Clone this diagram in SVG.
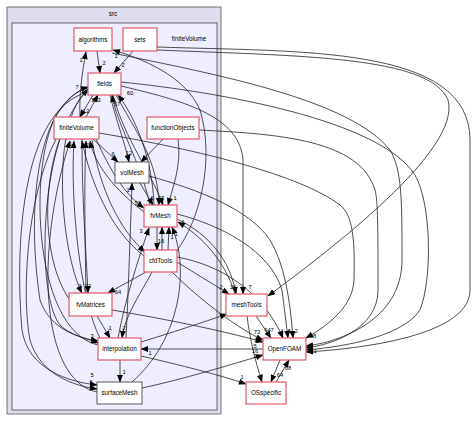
<svg xmlns="http://www.w3.org/2000/svg" width="474" height="422" viewBox="0 0 474 422">
<style>
.n text{font-family:"Liberation Sans",Arial,sans-serif;font-size:6.3px;text-anchor:middle;fill:#000}
.r{fill:#fff;stroke:#e05a68;stroke-width:1.2}
.b{fill:#fff;stroke:#333;stroke-width:0.8}
.e path{fill:none;stroke:#222;stroke-width:0.8;marker-end:url(#a)}
.l text{font-family:"Liberation Sans",Arial,sans-serif;font-size:5.8px;text-anchor:middle;fill:#000}
.c text{font-family:"Liberation Sans",Arial,sans-serif;font-size:6.3px;text-anchor:middle;fill:#000}
</style>
<defs>
<marker id="a" markerUnits="userSpaceOnUse" markerWidth="8" markerHeight="6" refX="6.5" refY="2.75" orient="auto" viewBox="0 0 7 5.5">
<path d="M0,0 L7,2.75 L0,5.5 Z" fill="#000"/>
</marker>
</defs>
<rect width="474" height="422" fill="#fff"/>
<g id="cluster_src" class="c">
<rect x="7" y="7" width="214" height="407" fill="#ddddee" stroke="#555" stroke-width="0.8"/>
<text x="113" y="16">src</text>
</g>
<g id="cluster_finiteVolume" class="c">
<rect x="12" y="23" width="205" height="387" fill="#eeeeff" stroke="#444" stroke-width="0.8"/>
<text x="189" y="41">finiteVolume</text>
</g>
<g id="connectors" class="e">
<path d="M80,117 C79,96 82,72 86,52"/>
<path d="M97,51 L100,73"/>
<path d="M133,51 L114,73"/>
<path d="M176,252 C200,220 215,160 200,110 C185,75 140,58 113,50"/>
<path d="M86,117 L98,95"/>
<path d="M93,95 L80,117"/>
<path d="M110,95 C116,120 124,140 129,162"/>
<path d="M93,139 L118,162"/>
<path d="M150,205 C140,160 117,125 112,95"/>
<path d="M116,95 C135,130 158,160 159,205"/>
<path d="M113,95 C125,140 150,170 163,205"/>
<path d="M140,183 L153,205"/>
<path d="M178,139 C182,165 172,190 168,205"/>
<path d="M163,139 L141,162"/>
<path d="M199,130 C280,134 360,140 375,190 C378,200 378,230 378,290 C378,330 330,345 306,348"/>
<path d="M157,47 C300,52 470,45 470,140 L470,290 C470,340 340,350 306,352"/>
<path d="M157,50 C300,56 430,56 448,100 C462,150 330,250 268,296"/>
<path d="M112,53 C220,75 350,100 390,150 C402,170 402,200 402,260 C402,320 340,342 306,346"/>
<path d="M121,82 C220,92 380,120 415,175 C432,205 432,280 420,310 C400,340 330,348 306,350"/>
<path d="M121,86 C180,100 240,115 243,160 L243,294"/>
<path d="M99,133 C200,150 300,175 340,205 C353,215 355,240 354,280 C353,310 320,330 306,338"/>
<path d="M149,176 C200,190 250,210 270,240 C285,265 290,300 293,338"/>
<path d="M177,214 C220,225 270,250 282,290 L288,338"/>
<path d="M177,257 C220,265 262,290 283,338"/>
<path d="M177,262 L229,294"/>
<path d="M177,219 C210,235 230,260 236,294"/>
<path d="M256,316 L271,338"/>
<path d="M141,342 C180,330 210,320 227,314"/>
<path d="M247,316 C250,340 255,360 262,382"/>
<path d="M280,360 L271,382"/>
<path d="M276,382 L289,360"/>
<path d="M263,349 L141,349"/>
<path d="M141,356 C180,365 220,375 246,384"/>
<path d="M120,360 L120,382"/>
<path d="M97,316 L110,338"/>
<path d="M152,272 C140,295 125,315 122,338"/>
<path d="M118,338 C125,300 138,260 149,228"/>
<path d="M126,338 C128,300 130,240 132,183"/>
<path d="M112,310 C170,320 220,330 263,342"/>
<path d="M142,388 C180,380 230,365 263,355"/>
<path d="M132,382 C180,340 190,270 172,227"/>
<path d="M168,250 L169,227"/>
<path d="M157,227 L157,250"/>
<path d="M162,250 L162,227"/>
<path d="M82,139 C82,200 86,250 88,293"/>
<path d="M88,90 C50,120 60,250 82,293"/>
<path d="M146,272 L108,293"/>
<path d="M86,293 C85,240 84,180 86,141"/>
<path d="M88,88 C40,100 25,200 40,300 C50,330 80,338 98,341"/>
<path d="M60,139 C40,200 40,300 60,325 C70,335 85,338 98,343"/>
<path d="M88,92 C20,110 15,250 22,330 C28,370 70,382 97,385"/>
<path d="M56,139 C25,200 22,300 30,340 C40,375 75,386 97,389"/>
<path d="M98,345 C30,330 28,150 60,110 C70,97 78,90 88,87"/>
<path d="M70,300 C40,260 35,150 88,89"/>
<path d="M97,392 C40,380 35,250 70,141"/>
<path d="M100,338 C80,300 70,200 74,141"/>
<path d="M144,212 C115,190 95,165 90,141"/>
<path d="M144,256 C110,230 90,180 82,141"/>
<path d="M96,139 C110,170 125,195 144,208"/>
<path d="M92,140 C100,190 120,230 145,252"/>
<path d="M235,294 C225,260 200,235 178,222"/>
<path d="M172,272 C200,300 240,330 263,340"/>
<path d="M154,205 C152,150 130,110 118,95"/>
</g>
<g id="labels" class="l">
<text x="81" y="62">1</text>
<text x="104" y="65">2</text>
<text x="123" y="67">2</text>
<text x="116" y="58">1</text>
<text x="96" y="102">103</text>
<text x="86" y="113">12</text>
<text x="129" y="155">12</text>
<text x="113" y="156">6</text>
<text x="117" y="106">57</text>
<text x="130" y="95">60</text>
<text x="161" y="200">43</text>
<text x="152" y="200">1</text>
<text x="175" y="200">1</text>
<text x="273" y="295">4</text>
<text x="250" y="289">7</text>
<text x="233" y="289">16</text>
<text x="221" y="289">2</text>
<text x="313" y="338">68</text>
<text x="296" y="333">2</text>
<text x="289" y="333">8</text>
<text x="282" y="333">1</text>
<text x="269" y="332">647</text>
<text x="257" y="334">73</text>
<text x="256" y="342">2</text>
<text x="255" y="348">5</text>
<text x="255" y="353">16</text>
<text x="255" y="358">1</text>
<text x="314" y="353">11</text>
<text x="261" y="378">4</text>
<text x="280" y="377">64</text>
<text x="288" y="370">68</text>
<text x="150" y="355">1</text>
<text x="242" y="379">1</text>
<text x="124" y="374">1</text>
<text x="110" y="330">1</text>
<text x="124" y="330">2</text>
<text x="141" y="233">3</text>
<text x="148" y="233">7</text>
<text x="161" y="243">16</text>
<text x="172" y="239">1</text>
<text x="176" y="236">1</text>
<text x="128" y="192">1</text>
<text x="80" y="288">1</text>
<text x="88" y="288">22</text>
<text x="118" y="294">64</text>
<text x="92" y="338">3</text>
<text x="92" y="377">5</text>
<text x="91" y="384">6</text>
<text x="77" y="89">7</text>
<text x="70" y="146">6</text>
<text x="88" y="147">2</text>
<text x="138" y="205">58</text>
<text x="183" y="224">1</text>
</g>
<g id="node_algorithms" class="n"><rect class="r" x="74" y="28" width="38" height="23"/><text x="93" y="42">algorithms</text></g>
<g id="node_sets" class="n"><rect class="r" x="123" y="28" width="34" height="23"/><text x="140" y="42">sets</text></g>
<g id="node_fields" class="n"><rect class="r" x="88" y="73" width="33" height="22"/><text x="104.5" y="86">fields</text></g>
<g id="node_finiteVolume" class="n"><rect class="r" x="54" y="117" width="45" height="22"/><text x="76.5" y="130">finiteVolume</text></g>
<g id="node_functionObjects" class="n"><rect class="r" x="147" y="117" width="52" height="22"/><text x="173" y="130">functionObjects</text></g>
<g id="node_volMesh" class="n"><rect class="b" x="115" y="162" width="34" height="21"/><text x="132" y="174.5">volMesh</text></g>
<g id="node_fvMesh" class="n"><rect class="r" x="144" y="205" width="33" height="22"/><text x="160.5" y="218">fvMesh</text></g>
<g id="node_cfdTools" class="n"><rect class="r" x="144" y="250" width="33" height="22"/><text x="160.5" y="263">cfdTools</text></g>
<g id="node_fvMatrices" class="n"><rect class="r" x="69" y="293" width="43" height="23"/><text x="90.5" y="307">fvMatrices</text></g>
<g id="node_interpolation" class="n"><rect class="r" x="98" y="338" width="43" height="22"/><text x="119.5" y="351">interpolation</text></g>
<g id="node_surfaceMesh" class="n"><rect class="b" x="97" y="382" width="45" height="22"/><text x="119.5" y="395">surfaceMesh</text></g>
<g id="node_meshTools" class="n"><rect class="r" x="226" y="294" width="41" height="22"/><text x="246.5" y="307">meshTools</text></g>
<g id="node_OpenFOAM" class="n"><rect class="r" x="263" y="338" width="43" height="22"/><text x="284.5" y="351">OpenFOAM</text></g>
<g id="node_OSspecific" class="n"><rect class="r" x="246" y="382" width="40" height="22"/><text x="266" y="395">OSspecific</text></g>
</svg>
